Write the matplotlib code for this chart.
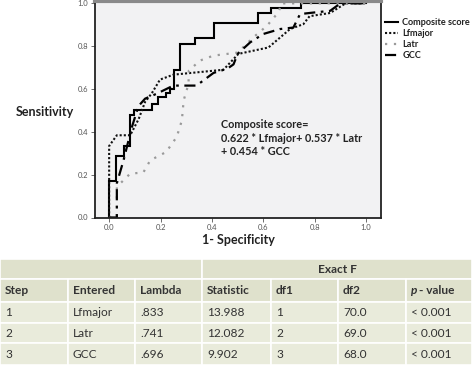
import matplotlib
matplotlib.use("Agg")
import matplotlib.pyplot as plt
from matplotlib.patches import Rectangle

plt.rcParams['font.family'] = ['Lato', 'DejaVu Sans']

# ---------------- data ----------------
comp_fpr = [0, 0, 0.028, 0.028, 0.056, 0.056, 0.083, 0.083, 0.098, 0.098, 0.168, 0.168, 0.19, 0.19,
            0.222, 0.222, 0.237, 0.237, 0.253, 0.253, 0.276, 0.276, 0.333, 0.333, 0.41, 0.41,
            0.58, 0.58, 0.63, 0.63, 0.746, 0.746, 1.0]
comp_tpr = [0, 0.17, 0.17, 0.286, 0.286, 0.333, 0.333, 0.48, 0.48, 0.50, 0.50, 0.528, 0.528, 0.562,
            0.562, 0.58, 0.58, 0.60, 0.60, 0.69, 0.69, 0.81, 0.81, 0.836, 0.836, 0.908,
            0.908, 0.954, 0.954, 0.98, 0.98, 1.0, 1.0]

lf_fpr = [0, 0, 0.03, 0.082, 0.115, 0.14, 0.166, 0.198, 0.25, 0.445, 0.503, 0.62, 0.704, 0.756,
          0.78, 0.86, 0.92, 1.0]
lf_tpr = [0, 0.334, 0.384, 0.384, 0.46, 0.54, 0.58, 0.644, 0.667, 0.69, 0.764, 0.794, 0.88, 0.903,
          0.94, 0.955, 1.0, 1.0]

latr_fpr = [0, 0.03, 0.03, 0.082, 0.133, 0.16, 0.222, 0.263, 0.283, 0.29, 0.309, 0.31, 0.354, 0.406,
            0.5, 0.56, 0.614, 0.66, 0.67, 1.0]
latr_tpr = [0, 0, 0.143, 0.205, 0.21, 0.267, 0.306, 0.376, 0.453, 0.547, 0.624, 0.686, 0.733, 0.756,
            0.77, 0.84, 0.895, 0.96, 1.0, 1.0]

gcc_fpr = [0, 0.03, 0.03, 0.056, 0.088, 0.114, 0.14, 0.185, 0.25, 0.34, 0.406, 0.46, 0.484, 0.5,
           0.549, 0.6, 0.665, 0.717, 0.743, 0.795, 0.86, 0.9, 1.0]
gcc_tpr = [0, 0, 0.16, 0.267, 0.42, 0.52, 0.555, 0.578, 0.616, 0.616, 0.675, 0.695, 0.715, 0.764,
           0.818, 0.857, 0.88, 0.887, 0.95, 0.957, 0.965, 1.0, 1.0]

series_names = ["Composite score", "Lfmajor", "Latr", "GCC"]
ticks = [0.0, 0.2, 0.4, 0.6, 0.8, 1.0]
tick_labels = ["0.0", "0.2", "0.4", "0.6", "0.8", "1.0"]

table_group = ["", "Exact F"]
table_header = ["Step", "Entered", "Lambda", "Statistic", "df1", "df2", "p - value"]
table_rows = [
    ["1", "Lfmajor", ".833", "13.988", "1", "70.0", "< 0.001"],
    ["2", "Latr", ".741", "12.082", "2", "69.0", "< 0.001"],
    ["3", "GCC", ".696", "9.902", "3", "68.0", "< 0.001"],
]
annotation = "Composite score=\n0.622 * Lfmajor+ 0.537 * Latr\n+ 0.454 * GCC"

# ---------------- figure ----------------
W, H = 474, 366
fig = plt.figure(figsize=(W / 100, H / 100), dpi=100)
fig.patch.set_facecolor("white")

ax = fig.add_axes([95 / W, (H - 217.5) / H, 286 / W, 216.5 / H])
ax.set_facecolor("#f2f2f3")
ax.set_xlim(-0.055, 1.058)
ax.set_ylim(0, 1.011)

ax.plot(comp_fpr, comp_tpr, color="black", lw=1.5, solid_joinstyle="miter")
ax.plot(lf_fpr, lf_tpr, color="#111111", lw=1.5, linestyle=(0, (1, 1)))
ax.plot(latr_fpr, latr_tpr, color="#9a9a9a", lw=1.6, linestyle=(0, (1, 3)))
ax.plot(gcc_fpr, gcc_tpr, color="black", lw=1.6, linestyle=(0, (5, 2.5, 1.2, 2.5)))

for s in ["left", "bottom", "right"]:
    ax.spines[s].set_color("#222222")
    ax.spines[s].set_linewidth(1.3)
ax.spines["top"].set_color("#8a8a8a")
ax.spines["top"].set_linewidth(3)

ax.set_xticks(ticks)
ax.set_xticklabels(tick_labels)
ax.set_yticks(ticks)
ax.set_yticklabels(tick_labels)
ax.tick_params(axis="both", labelsize=5.5, colors="#555555", length=3, width=0.6, pad=2)

fig.text(45 / W, 1 - 112 / H, "Sensitivity", ha="center", va="center",
         fontsize=9, fontweight="bold", color="#222222")
fig.text(238 / W, 1 - 240 / H, "1- Specificity", ha="center", va="center",
         fontsize=9, fontweight="bold", color="#222222")
ax.text(0.437, 0.46, annotation, ha="left", va="top", fontsize=7.8,
        fontweight="bold", color="#222222", linespacing=1.3)

# legend (outside axes, right)
leg = ax.legend(series_names, loc="upper left", bbox_to_anchor=(0.995, 0.945),
                frameon=False, fontsize=6.6, handlelength=1.4, handletextpad=0.5,
                labelspacing=0.2, borderaxespad=0.2)
for t in leg.get_texts():
    t.set_fontweight("bold")
    t.set_color("#222222")

# ---------------- table ----------------
tax = fig.add_axes([0, 0, 1, 1])
tax.set_xlim(0, W)
tax.set_ylim(H, 0)
tax.axis("off")

col_edges = [0, 68, 135, 202, 271, 338, 406, 472]
row_edges = [259, 279, 302, 323, 343, 365]
hdr_color = "#dfe1cc"
body_color = "#e9ebdb"
fs_tab = 8.6

def cell(x0, x1, y0, y1, color):
    tax.add_patch(Rectangle((x0, y0), x1 - x0, y1 - y0, facecolor=color,
                            edgecolor="white", lw=1.2))

# group row
cell(col_edges[0], col_edges[3], row_edges[0], row_edges[1], hdr_color)
cell(col_edges[3], col_edges[7], row_edges[0], row_edges[1], hdr_color)
tax.text((col_edges[3] + col_edges[7]) / 2, (row_edges[0] + row_edges[1]) / 2 + 0.5,
         table_group[1], ha="center", va="center", fontsize=fs_tab,
         fontweight="bold", color="#333333")

# header row
for j, name in enumerate(table_header):
    cell(col_edges[j], col_edges[j + 1], row_edges[1], row_edges[2], hdr_color)
    yc = (row_edges[1] + row_edges[2]) / 2 + 0.5
    if name.startswith("p "):
        tax.text(col_edges[j] + 5, yc, "p", ha="left", va="center", fontsize=fs_tab,
                 fontweight="bold", fontstyle="italic", color="#333333")
        tax.text(col_edges[j] + 13, yc, "- value", ha="left", va="center", fontsize=fs_tab,
                 fontweight="bold", color="#333333")
    else:
        tax.text(col_edges[j] + 5, yc, name, ha="left", va="center", fontsize=fs_tab,
                 fontweight="bold", color="#333333")

# body rows
for i, row in enumerate(table_rows):
    y0, y1 = row_edges[i + 2], row_edges[i + 3]
    for j, val in enumerate(row):
        cell(col_edges[j], col_edges[j + 1], y0, y1, body_color)
        tax.text(col_edges[j] + 5, (y0 + y1) / 2 + 0.5, val, ha="left", va="center",
                 fontsize=fs_tab, color="#333333")

fig.savefig("out.png", dpi=100)
